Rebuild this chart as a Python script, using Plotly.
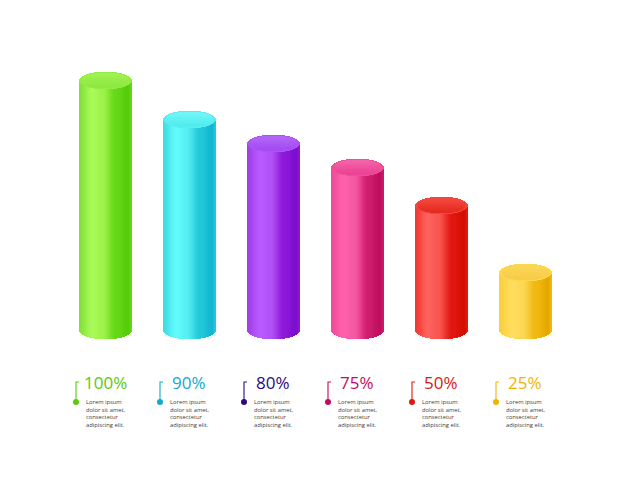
import plotly.graph_objects as go

# chart content
percent_labels = ["100%", "90%", "80%", "75%", "50%", "25%"]
column_heights = [250, 211, 187, 163, 125, 58]   # height of each cylinder, on the picture's scale
label_colors = ["#5cc80e", "#12a9cc", "#2c0a80", "#c40a60", "#dc1a10", "#f0b406"]
body_stops = [
    ["#86e03a", "#a8fb56", "#a0f24c", "#64d816", "#54cc0a", "#62d814"],
    ["#3fdde6", "#62fbfb", "#58f0f2", "#22c8da", "#14b6d0", "#20c8de"],
    ["#a33fe8", "#b85aff", "#b252f6", "#8e18da", "#7c0ecc", "#8a16da"],
    ["#f04c9c", "#ff60ac", "#f658a4", "#d01c6c", "#be0e5c", "#ca186a"],
    ["#f23a34", "#ff625c", "#fa5650", "#e21610", "#d40e00", "#e21a0e"],
    ["#fbd03c", "#ffdd5e", "#fdd856", "#f0b810", "#e6a800", "#eeb60e"],
]
cap_rims = ["#92ec44", "#56eef0", "#aa54f2", "#ee5098", "#f4443c", "#fcd84e"]
cap_stops = [
    ["#a0f252", "#8ee842"],
    ["#70f6f6", "#52ecee"],
    ["#b266f8", "#a44cf0"],
    ["#f462a8", "#ec4494"],
    ["#f4483e", "#e62c22"],
    ["#fbd656", "#f8cc48"],
]
lorem = "Lorem ipsum<br>dolor sit amet,<br>consectetur<br>adipiscing elit."

# layout of the picture
FIRST_LEFT, PITCH, BODY_W, RX_H = 79, 84, 53, 8.8
BASE_PX = 330.5


def hex_rgb(c):
    return [int(c[i:i + 2], 16) for i in (1, 3, 5)]


def gradient(stops, pos, t):
    for i in range(len(pos) - 1):
        if t <= pos[i + 1]:
            f = (t - pos[i]) / (pos[i + 1] - pos[i])
            f = f * f * (3 - 2 * f)
            a, b = hex_rgb(stops[i]), hex_rgb(stops[i + 1])
            return "rgb(%d,%d,%d)" % tuple(round(a[k] + (b[k] - a[k]) * f) for k in range(3))
    return stops[-1]


BODY_POS = [0, 0.26, 0.44, 0.72, 0.95, 1]
CAP_POS = [0, 1]
STEP = 0.5
fig = go.Figure()

for i, h in enumerate(column_heights):
    left = FIRST_LEFT + PITCH * i
    inset = STEP * 0.8
    n = int((BODY_W - 2 * inset) / STEP)
    xs, bases, lens, body_c, cap_b, cap_l = [], [], [], [], [], []
    for k in range(n + 1):
        t = k / n
        x = left + inset + (BODY_W - 2 * inset) * t
        e = RX_H * max(0.0, 1 - (2 * t - 1) ** 2) ** 0.5
        xs.append(x)
        bases.append(-e)
        lens.append(h + e)
        body_c.append(gradient(body_stops[i], BODY_POS, t))
        cap_b.append(h - e)
        cap_l.append(2 * e)
    fig.add_bar(x=xs, y=lens, base=bases, width=STEP * 1.6,
                marker=dict(color=body_c, line_width=0), hoverinfo="skip")
    fig.add_bar(x=xs, y=cap_l, base=cap_b, width=STEP * 1.6,
                marker_color=cap_rims[i], marker_line_width=0, hoverinfo="skip")

    # inner face of the cap: shaded from back to front with horizontal rows
    ry = RX_H * 0.86
    rx = BODY_W / 2 * 0.9
    cx = left + BODY_W / 2
    m = int(2 * ry / STEP)
    rows, starts, spans, row_c = [], [], [], []
    for k in range(m + 1):
        u = k / m
        half = rx * max(0.0, 1 - (2 * u - 1) ** 2) ** 0.5
        rows.append(h + ry - 2 * ry * u)
        starts.append(cx - half)
        spans.append(2 * half)
        row_c.append(gradient(cap_stops[i], CAP_POS, u))
    fig.add_bar(y=rows, x=spans, base=starts, orientation="h", width=STEP * 1.6,
                marker=dict(color=row_c, line_width=0), hoverinfo="skip")

    # callout: stem, dot, percentage and caption
    sx = 76 + PITCH * i
    fig.add_scatter(x=[sx, sx, sx + 3], y=[BASE_PX - 402, BASE_PX - 382, BASE_PX - 382],
                    mode="lines", line=dict(color=label_colors[i], width=1.1), hoverinfo="skip")
    fig.add_scatter(x=[sx], y=[BASE_PX - 402], mode="markers",
                    marker=dict(color=label_colors[i], size=6), hoverinfo="skip")
    fig.add_annotation(x=sx + 29, y=BASE_PX - 382.5, text=percent_labels[i],
                       showarrow=False, xanchor="center", yanchor="middle",
                       font=dict(family="Open Sans", size=17, color=label_colors[i]))
    fig.add_annotation(x=sx + 10, y=BASE_PX - 397.5, text=lorem, showarrow=False,
                       xanchor="left", yanchor="top", align="left", borderpad=0, borderwidth=0,
                       font=dict(family="Open Sans", size=5.8, color="#3c3c3c"))

fig.update_layout(
    width=625, height=500, margin=dict(l=0, r=0, t=0, b=0),
    paper_bgcolor="white", plot_bgcolor="white", showlegend=False,
    barmode="overlay", bargap=0,
    xaxis=dict(range=[0, 625], visible=False, fixedrange=True),
    yaxis=dict(range=[BASE_PX - 500, BASE_PX], visible=False, fixedrange=True),
)
fig.write_html("out.html", config={"displayModeBar": False},
               post_script="document.body.style.margin='0';")
